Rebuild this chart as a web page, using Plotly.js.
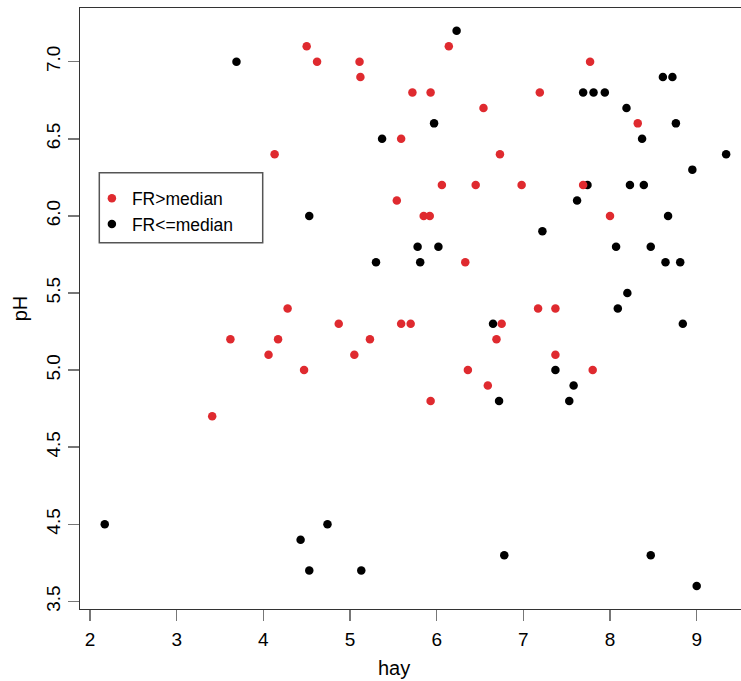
<!DOCTYPE html>
<html><head><meta charset="utf-8">
<script src="https://cdn.plot.ly/plotly-3.0.1.min.js"></script>
<style>html,body{margin:0;padding:0;background:#fff}</style>
</head><body><div id="chart" style="width:741px;height:681px"></div>
<script>
// FR > median (red)
const redHay = [4.50, 4.62, 5.11, 5.12, 5.72, 5.59, 4.13, 5.54, 4.28, 6.14,
                7.77, 5.93, 7.19, 6.54, 8.32, 6.73, 6.06, 6.45, 6.98, 7.69,
                5.85, 5.92, 8.00, 6.33, 7.17, 7.37, 4.87, 5.59, 5.70, 6.75,
                3.62, 4.17, 5.23, 6.69, 4.06, 5.05, 7.37, 4.47, 6.36, 7.80,
                6.59, 5.93, 3.41];
const redPH  = [7.1, 7.0, 7.0, 6.9, 6.8, 6.5, 6.4, 6.1, 5.4, 7.1,
                7.0, 6.8, 6.8, 6.7, 6.6, 6.4, 6.2, 6.2, 6.2, 6.2,
                6.0, 6.0, 6.0, 5.7, 5.4, 5.4, 5.3, 5.3, 5.3, 5.3,
                5.2, 5.2, 5.2, 5.2, 5.1, 5.1, 5.1, 5.0, 5.0, 5.0,
                4.9, 4.8, 4.7];
// FR <= median (black)
const blackHay = [3.69, 5.37, 4.53, 5.78, 5.30, 5.81, 6.23, 8.61, 8.72, 7.69,
                  7.81, 7.94, 8.19, 5.97, 8.76, 8.37, 9.34, 8.95, 7.74, 8.23,
                  8.39, 7.62, 8.67, 7.22, 6.02, 8.07, 8.47, 8.64, 8.81, 8.20,
                  8.09, 6.65, 8.84, 7.37, 7.58, 6.72, 7.53, 2.17, 4.74, 4.43,
                  4.53, 5.13, 6.78, 8.47, 9.00];
const blackPH  = [7.0, 6.5, 6.0, 5.8, 5.7, 5.7, 7.2, 6.9, 6.9, 6.8,
                  6.8, 6.8, 6.7, 6.6, 6.6, 6.5, 6.4, 6.3, 6.2, 6.2,
                  6.2, 6.1, 6.0, 5.9, 5.8, 5.8, 5.8, 5.7, 5.7, 5.5,
                  5.4, 5.3, 5.3, 5.0, 4.9, 4.8, 4.8, 4.0, 4.0, 3.9,
                  3.7, 3.7, 3.8, 3.8, 3.6];
const xTickVals = [2, 3, 4, 5, 6, 7, 8, 9];
const xTickText = ['2', '3', '4', '5', '6', '7', '8', '9'];
const yTickVals = [3.5, 4.0, 4.5, 5.0, 5.5, 6.0, 6.5, 7.0];
const yTickText = ['3.5', '4.5', '4.5', '5.0', '5.5', '6.0', '6.5', '7.0'];
const seriesNames = ['FR>median', 'FR<=median'];

const FONT = 'Liberation Sans, Arial, Helvetica, sans-serif';
const traces = [
  {x: blackHay, y: blackPH, type: 'scatter', mode: 'markers', name: seriesNames[1],
   legendrank: 2, marker: {color: '#000000', size: 8.5}},
  {x: redHay, y: redPH, type: 'scatter', mode: 'markers', name: seriesNames[0],
   legendrank: 1, marker: {color: '#df2a2f', size: 8.5}}
];
const layout = {
  width: 741, height: 681,
  margin: {l: 80, r: 0, t: 8, b: 72},
  paper_bgcolor: '#ffffff', plot_bgcolor: '#ffffff',
  font: {family: FONT, color: '#000', size: 19},
  showlegend: true,
  legend: {x: 0.018, y: 0.713, xanchor: 'left', yanchor: 'top',
           bgcolor: 'rgba(0,0,0,0)', borderwidth: 0,
           font: {family: FONT, size: 17.5, color: '#000'}},
  xaxis: {range: [1.8846, 9.5113], tickvals: xTickVals, ticktext: xTickText,
          showgrid: false, zeroline: false, showline: true, mirror: true,
          linecolor: '#333', linewidth: 1.3, ticks: 'outside', ticklen: 11,
          tickwidth: 1.5, tickcolor: '#777', tickfont: {size: 19, family: FONT},
          ticklabelstandoff: 2},
  yaxis: {range: [3.4507, 7.3482], tickvals: yTickVals, ticktext: yTickText,
          showgrid: false, zeroline: false, showline: true, mirror: false,
          linecolor: '#333', linewidth: 1.3, ticks: 'outside', ticklen: 11,
          tickwidth: 1.5, tickcolor: '#777', tickangle: -90,
          tickfont: {size: 19, family: FONT},
          title: {text: 'pH', font: {size: 20, family: FONT}, standoff: 10}},
  annotations: [
    {text: 'hay', xref: 'paper', yref: 'paper', x: 0.475, y: -0.0982,
     xanchor: 'center', yanchor: 'middle', showarrow: false,
     font: {size: 20, family: FONT, color: '#000'}}
  ],
  shapes: [
    {type: 'rect', xref: 'paper', yref: 'paper', x0: 0.0292, x1: 0.2764,
     y0: 0.6095, y1: 0.726, line: {color: '#555', width: 1.5}, fillcolor: '#fff', layer: 'below'}
  ]
};
Plotly.newPlot('chart', traces, layout, {displayModeBar: false, staticPlot: true});
</script>
</body></html>
